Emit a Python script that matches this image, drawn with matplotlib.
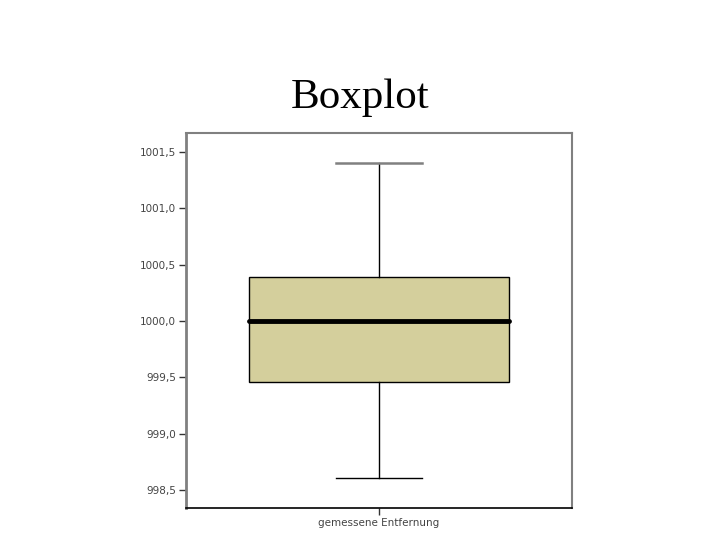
import matplotlib
matplotlib.use("Agg")
import matplotlib.pyplot as plt

category = "gemessene Entfernung"
whisker_low = 998.61
q1 = 999.46
median = 1000.0
q3 = 1000.39
whisker_high = 1001.40
yticks = [998.5, 999.0, 999.5, 1000.0, 1000.5, 1001.0, 1001.5]
ytick_labels = ["998,5", "999,0", "999,5", "1000,0", "1000,5", "1001,0", "1001,5"]

fig = plt.figure(figsize=(7.2, 5.4), dpi=100)
ax = fig.add_axes([186/720, 1-508/540, (572-186)/720, (508-133)/540])

stats = [dict(label=category, whislo=whisker_low, q1=q1, med=median, q3=q3,
              whishi=whisker_high, fliers=[])]
res = ax.bxp(stats, positions=[1], widths=0.676, patch_artist=True, showfliers=False,
             boxprops=dict(facecolor="#D4CF9C", edgecolor="black", linewidth=1.0),
             medianprops=dict(color="black", linewidth=3.5, solid_capstyle="round"),
             whiskerprops=dict(color="black", linewidth=1.0),
             capprops=dict(color="black", linewidth=1.0), capwidths=0.225)
# upper cap is drawn in gray in the reference
res["caps"][1].set_color("#808080")
res["caps"][1].set_linewidth(1.8)

ax.set_xlim(0.5, 1.5)
ax.set_ylim(998.34, 1001.67)
ax.set_yticks(yticks)
ax.set_yticklabels(ytick_labels, fontsize=7.5, color="#444444")
ax.set_xticks([1])
ax.set_xticklabels([category], fontsize=7.5, color="#444444")
ax.tick_params(axis="y", length=5, width=1, color="#333333", pad=2)
ax.tick_params(axis="x", length=5, width=1, color="#333333", pad=2)
for name, sp in ax.spines.items():
    sp.set_color("#808080")
    sp.set_linewidth(1.5)
ax.spines["left"].set_linewidth(2)
ax.spines["bottom"].set_color("black")
ax.spines["bottom"].set_linewidth(1.2)

fig.text(360/720, 1-98/540, "Boxplot", ha="center", va="center",
         fontsize=31, family="Liberation Serif", color="black")

fig.savefig("out.png", dpi=100)
